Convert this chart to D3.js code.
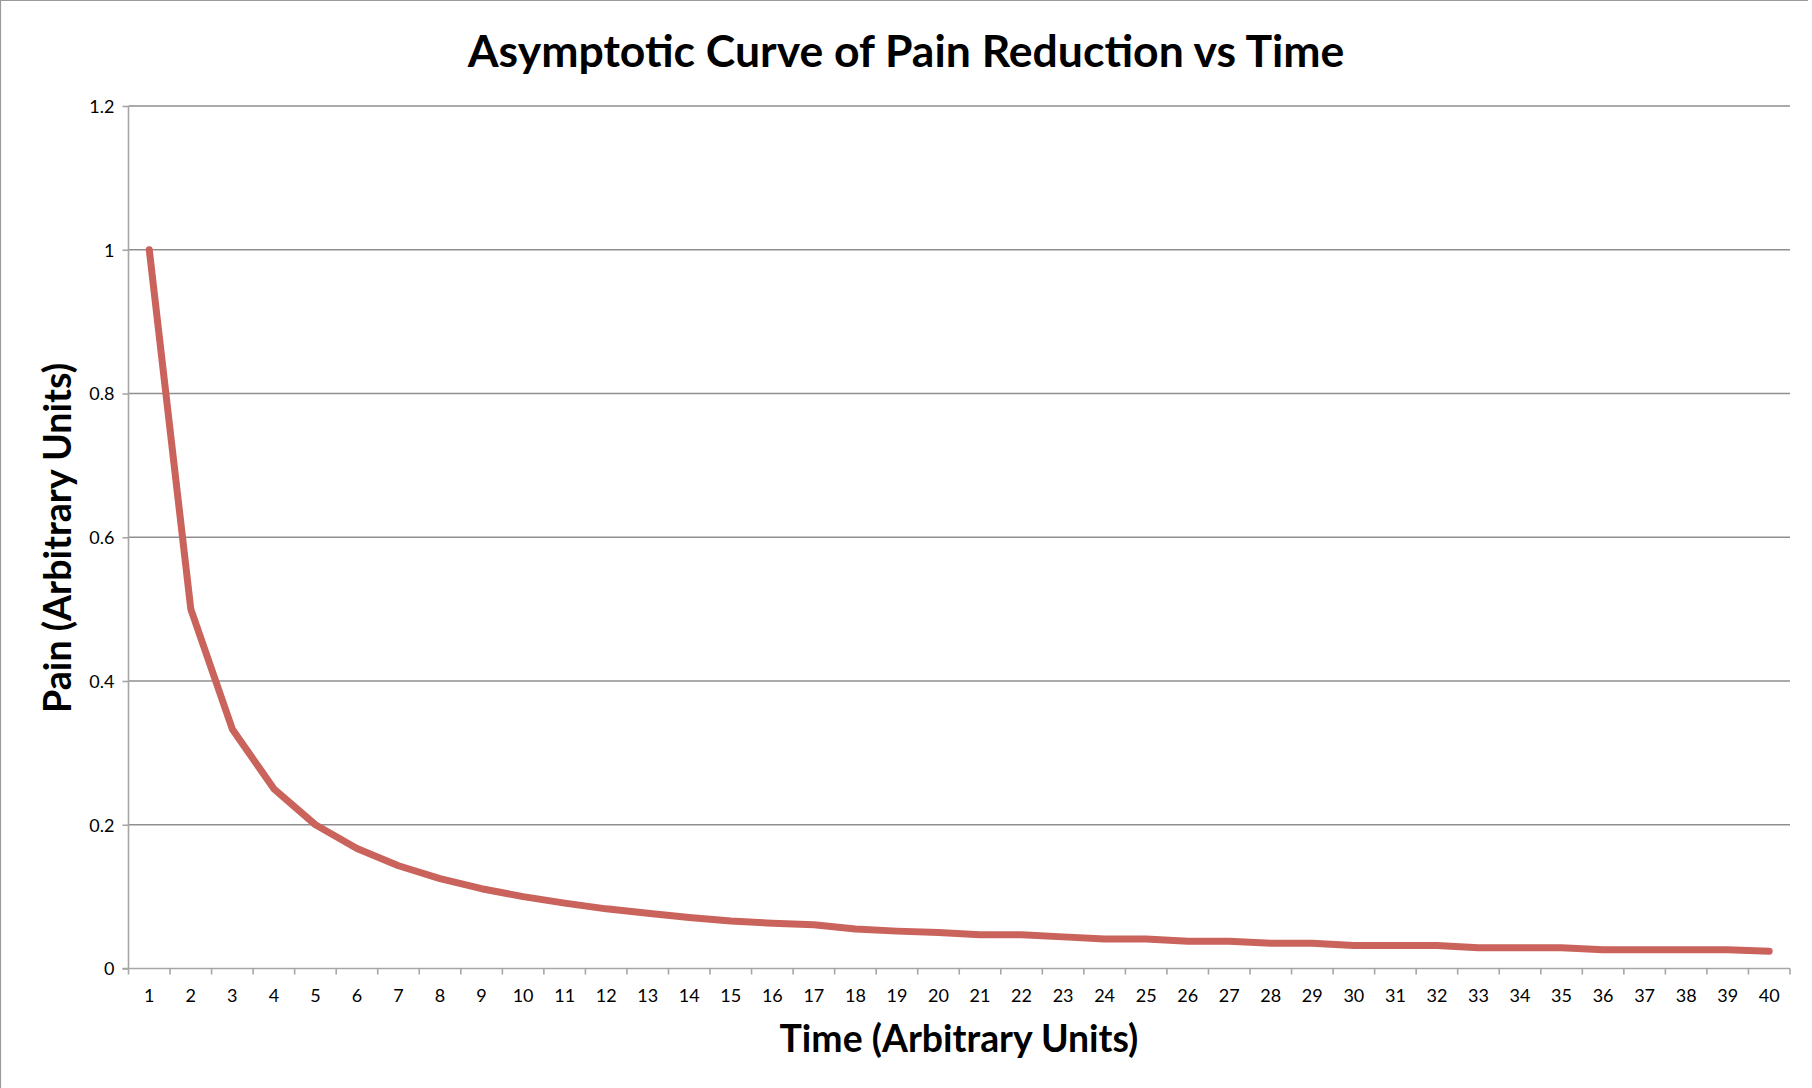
<!DOCTYPE html>
<html>
<head>
<meta charset="utf-8">
<script src="https://cdn.jsdelivr.net/npm/d3@7"></script>
<style>
  html, body { margin: 0; padding: 0; background: #ffffff; }
  svg { display: block; }
  text { font-family: Lato, "Open Sans", sans-serif; fill: #000; }
</style>
</head>
<body>
<svg id="chart" width="1812" height="1088"></svg>
<script>
// ---- data ----
const chartTitle = "Asymptotic Curve of Pain Reduction vs Time";
const xTitle = "Time (Arbitrary Units)";
const yTitle = "Pain (Arbitrary Units)";
const timeCategories = [1,2,3,4,5,6,7,8,9,10,11,12,13,14,15,16,17,18,19,20,
                        21,22,23,24,25,26,27,28,29,30,31,32,33,34,35,36,37,38,39,40];
const painValues = [1.000, 0.500, 0.333, 0.250, 0.200, 0.167, 0.143, 0.125, 0.111, 0.100,
                    0.091, 0.083, 0.077, 0.071, 0.066, 0.063, 0.061, 0.055, 0.052, 0.050,
                    0.047, 0.047, 0.044, 0.041, 0.041, 0.038, 0.038, 0.035, 0.035, 0.032,
                    0.032, 0.032, 0.029, 0.029, 0.029, 0.026, 0.026, 0.026, 0.026, 0.024];
const yTickValues = [0, 0.2, 0.4, 0.6, 0.8, 1, 1.2];

// ---- layout ----
const svg = d3.select("#chart");
const plot = { left: 128.5, right: 1790, top: 106, bottom: 968.5 };

const x = d3.scaleBand().domain(timeCategories).range([plot.left, plot.right]).padding(0);
const y = d3.scaleLinear().domain([0, 1.2]).range([plot.bottom, plot.top]);

// outer border (top & left visible)
svg.append("line").attr("x1", 0.5).attr("y1", 0.5).attr("x2", 1808).attr("y2", 0.5)
  .attr("stroke", "#9b9b9b").attr("stroke-width", 1.2);
svg.append("line").attr("x1", 0.5).attr("y1", 0).attr("x2", 0.5).attr("y2", 1088)
  .attr("stroke", "#9b9b9b").attr("stroke-width", 1.2);

// horizontal gridlines
svg.append("g").selectAll("line").data(yTickValues.filter(d => d > 0)).join("line")
  .attr("x1", plot.left).attr("x2", plot.right)
  .attr("y1", d => y(d)).attr("y2", d => y(d))
  .attr("stroke", "#8f8f8f").attr("stroke-width", 1.5);

// y axis
const yAxis = d3.axisLeft(y).tickValues(yTickValues).tickSize(6).tickPadding(6)
  .tickFormat(d => d3.format("")(+d.toFixed(1)));
const gy = svg.append("g").attr("transform", `translate(${plot.left},0)`).call(yAxis);
gy.select(".domain").attr("stroke", "#a6a6a6").attr("stroke-width", 1.6)
  .attr("d", `M0,${plot.top}V${plot.bottom}`);
gy.selectAll(".tick line").attr("stroke", "#a6a6a6").attr("stroke-width", 1.6);
gy.selectAll(".tick text").attr("font-size", 18).attr("font-family", "Lato, sans-serif")
  .attr("fill", "#000").attr("dx", "-2").attr("dy", "0.36em");

// x axis (ticks between categories, Excel style)
const gx = svg.append("g").attr("transform", `translate(0,${plot.bottom})`);
gx.append("line").attr("x1", plot.left - 6).attr("x2", plot.right)
  .attr("y1", 0).attr("y2", 0).attr("stroke", "#a6a6a6").attr("stroke-width", 1.6);
const boundaries = timeCategories.map(d => x(d)).concat([x(timeCategories[timeCategories.length - 1]) + x.bandwidth()]);
gx.selectAll("line.tk").data(boundaries).join("line").attr("class", "tk")
  .attr("x1", d => d).attr("x2", d => d).attr("y1", 0).attr("y2", 6)
  .attr("stroke", "#a6a6a6").attr("stroke-width", 1.6);
gx.selectAll("text").data(timeCategories).join("text")
  .attr("x", d => x(d) + x.bandwidth() / 2).attr("y", 33.5)
  .attr("text-anchor", "middle").attr("font-size", 18).text(d => d);

// data line
const line = d3.line()
  .x((d, i) => x(timeCategories[i]) + x.bandwidth() / 2)
  .y(d => y(d));
svg.append("path").datum(painValues)
  .attr("d", line).attr("fill", "none")
  .attr("stroke", "#c9635c").attr("stroke-width", 7)
  .attr("stroke-linecap", "round").attr("stroke-linejoin", "round");

// fit helper for titles
function fitText(sel, targetWidth, startSize) {
  sel.attr("font-size", startSize);
  const w = sel.node().getComputedTextLength();
  sel.attr("font-size", startSize * targetWidth / w);
}

// chart title
const t = svg.append("text").attr("x", 906).attr("y", 67).attr("text-anchor", "middle")
  .attr("font-weight", "bold").text(chartTitle);
fitText(t, 877, 44);

// x title
const xt = svg.append("text").attr("x", 959).attr("y", 1052).attr("text-anchor", "middle")
  .attr("font-weight", "bold").text(xTitle);
fitText(xt, 359, 34);

// y title
const yt = svg.append("text").attr("transform", "translate(71,538) rotate(-90)")
  .attr("text-anchor", "middle").attr("font-weight", "bold").text(yTitle);
fitText(yt, 350, 34);
</script>
</body>
</html>
